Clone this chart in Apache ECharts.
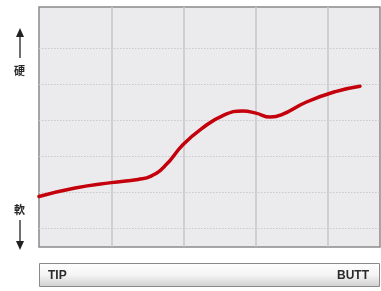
<!DOCTYPE html>
<html><head><meta charset="utf-8">
<script src="https://cdn.jsdelivr.net/npm/echarts@6/dist/echarts.min.js"></script>
<style>html,body{margin:0;padding:0;background:#fff}#c{width:381px;height:291px}</style>
</head><body><div id="c"></div>
<script>
// Position along the shaft (units = grid columns, 0 = TIP)
var positions = [0, 0.5, 1.0, 1.37, 1.55, 1.75, 1.99, 2.25, 2.55, 2.82, 3.0, 3.20, 3.35, 3.7, 4.1, 4.44];
// Stiffness (units = dotted grid rows)
var stiffness = [0.875, 1.11, 1.26, 1.35, 1.44, 1.74, 2.31, 2.76, 3.13, 3.25, 3.19, 3.08, 3.14, 3.50, 3.79, 3.94];
var endLabels = ['TIP', 'BUTT'];
var axisLabels = ['硬', '軟'];

var data = positions.map(function (p, i) { return [p, stiffness[i]]; });
var xMax = 341 / 72.3;

var chart = echarts.init(document.getElementById('c'));
chart.setOption({
  animation: false,
  grid: [
    { left: 39, top: 7, width: 341, height: 240, show: true, backgroundColor: '#ebebed', borderColor: '#8a8a8a', borderWidth: 1.5 },
    { left: 39, top: 48, width: 341, height: 180 }
  ],
  xAxis: [
    { gridIndex: 0, type: 'value', min: 0, max: xMax, interval: 1,
      axisLine: { show: false }, axisTick: { show: false }, axisLabel: { show: false },
      splitLine: { show: true, showMinLine: false, showMaxLine: false, lineStyle: { color: '#c6c6c8', width: 1.5 } } },
    { gridIndex: 1, type: 'value', min: 0, max: xMax, show: false, splitLine: { show: false } }
  ],
  yAxis: [
    { gridIndex: 0, type: 'value', min: 0, max: 1, show: false, splitLine: { show: false } },
    { gridIndex: 1, type: 'value', min: 0, max: 5, interval: 1,
      axisLine: { show: false }, axisTick: { show: false }, axisLabel: { show: false },
      splitLine: { show: true, lineStyle: { color: '#c9c9cb', width: 1, type: [1.5, 1.5] } } }
  ],
  series: [{
    type: 'line', xAxisIndex: 1, yAxisIndex: 1, data: data,
    smooth: 0.5, showSymbol: false, symbol: 'none',
    lineStyle: { color: '#c3000b', width: 3.5, cap: 'round' }, z: 5
  }],
  graphic: [
    { type: 'rect', shape: { x: 39.5, y: 263.5, width: 340, height: 23 },
      style: { fill: new echarts.graphic.LinearGradient(0, 0, 0, 1, [
        { offset: 0, color: '#ffffff' }, { offset: 0.5, color: '#f4f4f4' }, { offset: 1, color: '#cfcfcf' }]),
        stroke: '#8a8a8a', lineWidth: 1 } },
    { type: 'text', left: 48, top: 270, style: { text: endLabels[0], font: 'bold 12px "Liberation Sans", Arial, sans-serif', fill: '#2a2a2a' } },
    { type: 'text', right: 12, top: 270, style: { text: endLabels[1], font: 'bold 12px "Liberation Sans", Arial, sans-serif', fill: '#2a2a2a', textAlign: 'right' } },
    { type: 'line', shape: { x1: 20, y1: 34, x2: 20, y2: 58 }, style: { stroke: '#222', lineWidth: 1.3 } },
    { type: 'polygon', shape: { points: [[20, 28], [16, 37], [24, 37]] }, style: { fill: '#222' } },
    { type: 'text', left: 14, top: 65, style: { text: axisLabels[0], font: 'bold 11px "Noto Sans CJK JP", sans-serif', fill: '#2a2a2a' } },
    { type: 'text', left: 14, top: 204, style: { text: axisLabels[1], font: 'bold 11px "Noto Sans CJK JP", sans-serif', fill: '#2a2a2a' } },
    { type: 'line', shape: { x1: 20, y1: 220, x2: 20, y2: 244 }, style: { stroke: '#222', lineWidth: 1.3 } },
    { type: 'polygon', shape: { points: [[20, 250], [16, 241], [24, 241]] }, style: { fill: '#222' } }
  ]
});
</script>
</body></html>
